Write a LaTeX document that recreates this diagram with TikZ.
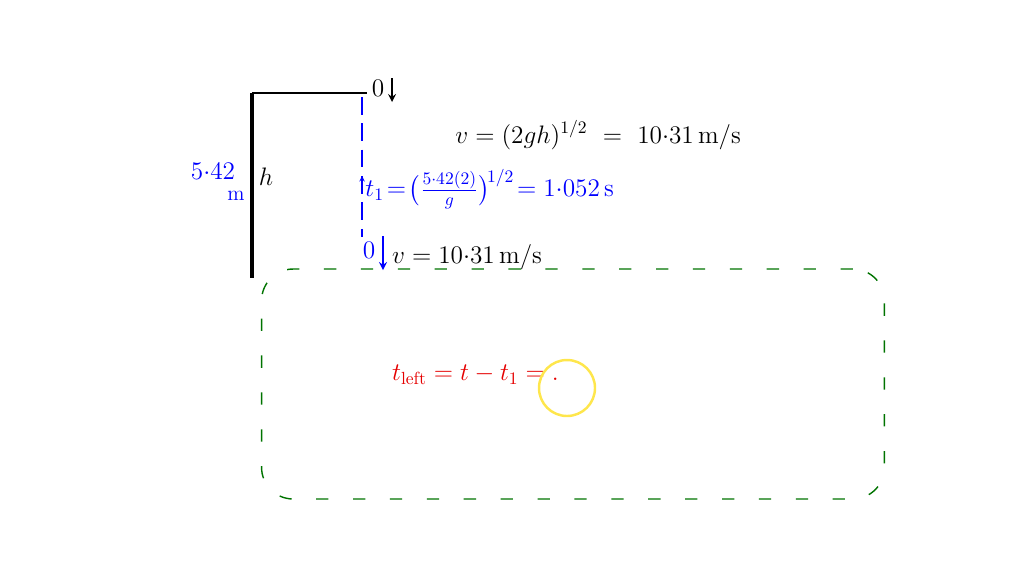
\documentclass[tikz,border=0pt]{standalone}
\usepackage{amsmath}
\usetikzlibrary{positioning, arrows}
\tikzset{
    >=stealth,
    txt/.style={inner sep=1pt, font=\Large},
    bluetxt/.style={txt, text=blue},
    redtxt/.style={txt, text=red!90!black},
    zone/.style={draw=green!45!black, thick, dash pattern=on 7pt off 14pt,
        rounded corners=18pt, minimum width=12.46cm, minimum height=4.6cm}
}

\begin{document}
\begin{tikzpicture}[x=0.02cm, y=-0.02cm]
    \useasboundingbox (0,0) rectangle (1024,576);
    % cliff
        \coordinate (top) at (252,93);
        \coordinate (bot) at (252,278);
        \coordinate (edge) at (367,93);
        \draw[line width=2.2pt] (top) -- (bot);
        \draw[line width=1.2pt] (top) -- (edge);
        \node[bluetxt] (hval) at (213,171) {$5{\cdot}42$};
        \node[bluetxt, font=\large] (hunit) at (236,196) {m};
        \node[txt] (h) at (266,177) {$h$};
    % fall
        \coordinate (d0) at (362,97);
        \coordinate (d1) at (362,237);
        \draw[blue, semithick, dash pattern=on 10pt off 5pt] (d0) -- (d1);
        \coordinate (u0) at (362,188);
        \coordinate (u1) at (362,176);
        \draw[blue, ->] (u0) -- (u1);
        \node[txt] (z0) at (378,88) {$0$};
        \coordinate (a0) at (392,78);
        \coordinate (a1) at (392,102);
        \draw[->, line width=1pt] (a0) -- (a1);
        \node[bluetxt] (z1) at (369,250) {$0$};
        \coordinate (b0) at (383,236);
        \coordinate (b1) at (383,270);
        \draw[->, blue, line width=1pt] (b0) -- (b1);
        \node[txt, anchor=west] (vend) at (390,257) {$v=10{\cdot}31\,\mathrm{m/s}$};
    % formulas
        \node[txt, anchor=west, inner sep=0pt] (vform) at (455,135)
            {$v=(2gh)^{1/2}\ =\ 10{\cdot}31\,\mathrm{m/s}$};
        \node[bluetxt, anchor=west, inner sep=0pt] (tone) at (365,189)
            {$t_1\!=\!\bigl(\tfrac{5{\cdot}42(2)}{g}\bigr)^{\!1/2}\!=1{\cdot}052\,\mathrm{s}$};
    % water
        \node[zone] (water) at (573,384) {};
        \node[redtxt, anchor=west] (tleft) at (390,375) {$t_{\mathrm{left}}=t-t_1=.$};
        \draw[yellow!80!orange!70, line width=1.4pt] (567,388) circle (28);
\end{tikzpicture}
\end{document}
